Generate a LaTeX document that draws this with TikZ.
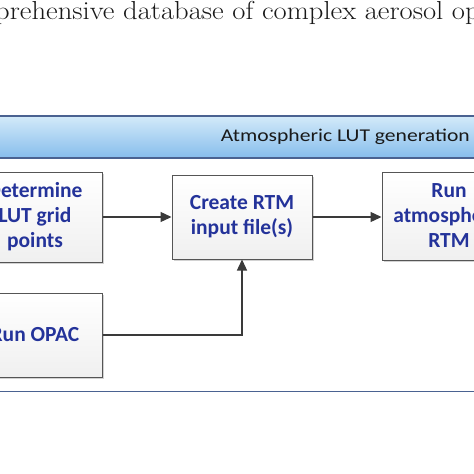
\documentclass[tikz,border=0pt]{standalone}
\usepackage{fontspec}
\newfontfamily\boxfont{Carlito}
\usetikzlibrary{arrows.meta,shadows}
\definecolor{framec}{HTML}{4A6291}
\definecolor{hdtop}{HTML}{D3EAF9}
\definecolor{hdbot}{HTML}{86BDEC}
\definecolor{txtc}{HTML}{24339A}
\definecolor{linec}{HTML}{3A3A3A}
\definecolor{boxborder}{HTML}{555555}
\tikzset{
  stepbox/.style={draw=boxborder, line width=1pt, top color=white, bottom color=black!6,
    align=center, text=txtc, font=\boxfont\bfseries\fontsize{21.5}{25}\selectfont,
    inner sep=0pt,
    drop shadow={shadow xshift=2pt, shadow yshift=-2pt, fill=black!35, opacity=0.5}},
  arr/.style={draw=linec, line width=1.3pt, -{Triangle[length=11pt,width=10pt]}},
}
\begin{document}
\begin{tikzpicture}[x=1pt,y=-1pt]
\useasboundingbox (0,0) rectangle (474,474);
\clip (0,0) rectangle (474,474);
\fill[white] (0,0) rectangle (474,474);
% caption fragment
\node[anchor=base west, inner sep=0pt, font=\fontsize{26}{26}\selectfont, text=black!90] (cap) at (-5,19)
  {\scalebox{1.1}[1]{\llap{com}prehensive database of complex aerosol op\rlap{tical}}};
% frame
\draw[framec, line width=1pt] (-10,116) rectangle (530,391);
\shade[top color=hdtop, bottom color=hdbot] (-10,116) rectangle (530,158);
\draw[framec, line width=2pt] (-10,116) -- (530,116);
\draw[framec, line width=2pt] (-10,158) -- (530,158);
\node[anchor=east, inner sep=0pt, font=\boxfont\fontsize{18}{18}\selectfont, text=black!90] (hdr) at (470,137)
  {\scalebox{1.2}[1]{Atmospheric LUT generation}};
% boxes
\node[stepbox, minimum width=134pt, minimum height=90pt] (det) at (35,217) {Determine\\LUT grid\\points};
\node[stepbox, minimum width=140pt, minimum height=84pt] (rtmin) at (242,217) {Create RTM\\input file(s)};
\node[stepbox, minimum width=134pt, minimum height=88pt] (runrtm) at (449,216) {Run\\atmospheric\\RTM};
\node[stepbox, minimum width=134pt, minimum height=84pt] (opac) at (35,335) {Run OPAC};
% connectors
\draw[arr] (det.east) -- (rtmin.west);
\draw[arr] (rtmin.east) -- (rtmin.east -| runrtm.west);
\draw[arr] (opac.east) -| (rtmin.south);
\end{tikzpicture}
\end{document}
